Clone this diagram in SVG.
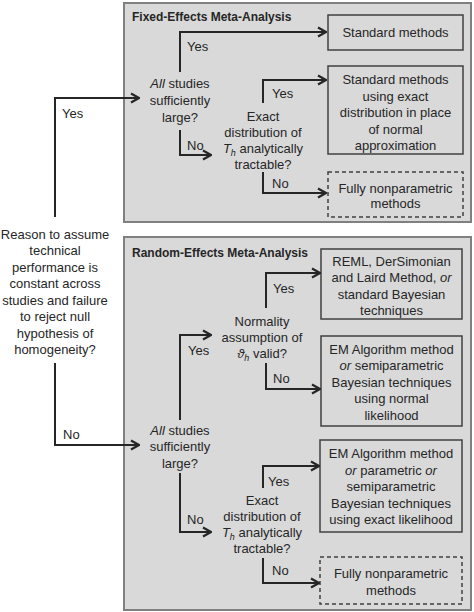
<svg xmlns="http://www.w3.org/2000/svg" width="474" height="612" viewBox="0 0 474 612">
<style>
text{font-family:"Liberation Sans",Arial,sans-serif;font-size:13px;fill:#262626}
.c{text-anchor:middle}
.t{font-weight:bold;font-size:12px}
.i{font-style:italic}
.panel{fill:#d9d9d9;stroke:#808080;stroke-width:2}
.box{fill:#d9d9d9;stroke:#404040;stroke-width:1.5}
.dash{fill:#d9d9d9;stroke:#404040;stroke-width:1.5;stroke-dasharray:4 3}
.conn path{fill:none;stroke:#262626;stroke-width:2;marker-end:url(#ah)}
</style>
<defs>
<marker id="ah" markerUnits="userSpaceOnUse" markerWidth="12" markerHeight="12" viewBox="0 0 12 12" refX="11" refY="6" orient="auto">
<path d="M3,1.5 L11,6 L3,10.5" fill="none" stroke="#262626" stroke-width="2.2"/>
</marker>
</defs>
<rect width="474" height="612" fill="#ffffff"/>
<g id="panel-fixed">
<rect class="panel" x="124" y="3" width="347" height="219"/>
<text class="t" x="132" y="21">Fixed-Effects Meta-Analysis</text>
</g>
<g id="panel-random">
<rect class="panel" x="124" y="237" width="347" height="373"/>
<text class="t" x="132" y="257">Random-Effects Meta-Analysis</text>
</g>
<g id="start">
<text class="c" x="55" y="238.5">Reason to assume</text>
<text class="c" x="55" y="255">technical</text>
<text class="c" x="55" y="271.5">performance is</text>
<text class="c" x="55" y="288">constant across</text>
<text class="c" x="55" y="304.5">studies and failure</text>
<text class="c" x="55" y="321">to reject null</text>
<text class="c" x="55" y="337.5">hypothesis of</text>
<text class="c" x="55" y="354">homogeneity?</text>
</g>
<g id="fixed-large">
<text class="c" x="180" y="88"><tspan class="i">All</tspan> studies</text>
<text class="c" x="180" y="104.5">sufficiently</text>
<text class="c" x="180" y="121.5">large?</text>
</g>
<g id="fixed-exact">
<text class="c" x="263" y="121">Exact</text>
<text class="c" x="263" y="137">distribution of</text>
<text class="c" x="263" y="153"><tspan class="i">T</tspan><tspan class="i" font-size="9" dy="3">h</tspan><tspan dy="-3"> analytically</tspan></text>
<text class="c" x="263" y="169">tractable?</text>
</g>
<g id="fixed-standard">
<rect class="box" x="328" y="15" width="135" height="35"/>
<text class="c" x="395.5" y="37">Standard methods</text>
</g>
<g id="fixed-exactdist">
<rect class="box" x="328" y="66" width="135" height="88"/>
<text class="c" x="395.5" y="84">Standard methods</text>
<text class="c" x="395.5" y="100.5">using exact</text>
<text class="c" x="395.5" y="117">distribution in place</text>
<text class="c" x="395.5" y="133.5">of normal</text>
<text class="c" x="395.5" y="150">approximation</text>
</g>
<g id="fixed-nonparam">
<rect class="dash" x="328" y="172" width="135" height="45"/>
<text class="c" x="395.5" y="192.5">Fully nonparametric</text>
<text class="c" x="395.5" y="208">methods</text>
</g>
<g id="random-large">
<text class="c" x="180" y="434.5"><tspan class="i">All</tspan> studies</text>
<text class="c" x="180" y="451">sufficiently</text>
<text class="c" x="180" y="467.5">large?</text>
</g>
<g id="random-normality">
<text class="c" x="262" y="325.5">Normality</text>
<text class="c" x="262" y="341.5">assumption of</text>
<text class="c" x="262" y="357.5"><tspan class="i">ϑ</tspan><tspan class="i" font-size="9" dy="3">h</tspan><tspan dy="-3"> valid?</tspan></text>
</g>
<g id="random-exact">
<text class="c" x="262" y="505">Exact</text>
<text class="c" x="262" y="521">distribution of</text>
<text class="c" x="262" y="537"><tspan class="i">T</tspan><tspan class="i" font-size="9" dy="3">h</tspan><tspan dy="-3"> analytically</tspan></text>
<text class="c" x="262" y="553">tractable?</text>
</g>
<g id="random-reml">
<rect class="box" x="321" y="249" width="141" height="70"/>
<text class="c" x="391.5" y="265.5">REML, DerSimonian</text>
<text class="c" x="391.5" y="282">and Laird Method, <tspan class="i">or</tspan></text>
<text class="c" x="391.5" y="298.5">standard Bayesian</text>
<text class="c" x="391.5" y="315">techniques</text>
</g>
<g id="random-em-normal">
<rect class="box" x="321" y="336" width="141" height="90"/>
<text class="c" x="391.5" y="353.5">EM Algorithm method</text>
<text class="c" x="391.5" y="370"><tspan class="i">or</tspan> semiparametric</text>
<text class="c" x="391.5" y="386.5">Bayesian techniques</text>
<text class="c" x="391.5" y="403">using normal</text>
<text class="c" x="391.5" y="419.5">likelihood</text>
</g>
<g id="random-em-exact">
<rect class="box" x="320" y="440" width="142" height="92"/>
<text class="c" x="391" y="458">EM Algorithm method</text>
<text class="c" x="391" y="474.5"><tspan class="i">or</tspan> parametric <tspan class="i">or</tspan></text>
<text class="c" x="391" y="491">semiparametric</text>
<text class="c" x="391" y="507.5">Bayesian techniques</text>
<text class="c" x="391" y="524">using exact likelihood</text>
</g>
<g id="random-nonparam">
<rect class="dash" x="320" y="557" width="142" height="47"/>
<text class="c" x="391" y="578">Fully nonparametric</text>
<text class="c" x="391" y="594.5">methods</text>
</g>
<g id="connectors" class="conn">
<path d="M55,217 V98 H139"/>
<path d="M55,363 V445 H139"/>
<path d="M180,72 V32 H326"/>
<path d="M180,130 V155 H211"/>
<path d="M263,103 V80 H326"/>
<path d="M263,172 V193 H326"/>
<path d="M266,308 V273 H320"/>
<path d="M266,363 V389 H320"/>
<path d="M180,420 V335 H211"/>
<path d="M180,473 V532 H211"/>
<path d="M263,488 V466 H319"/>
<path d="M263,558 V583 H319"/>
</g>
<g id="labels">
<text x="62" y="118">Yes</text>
<text x="63" y="439">No</text>
<text x="187" y="51">Yes</text>
<text x="187" y="150">No</text>
<text x="272" y="98">Yes</text>
<text x="272" y="188">No</text>
<text x="273" y="293">Yes</text>
<text x="273" y="383">No</text>
<text x="188" y="355">Yes</text>
<text x="187" y="524">No</text>
<text x="268" y="486">Yes</text>
<text x="272" y="575">No</text>
</g>
</svg>
